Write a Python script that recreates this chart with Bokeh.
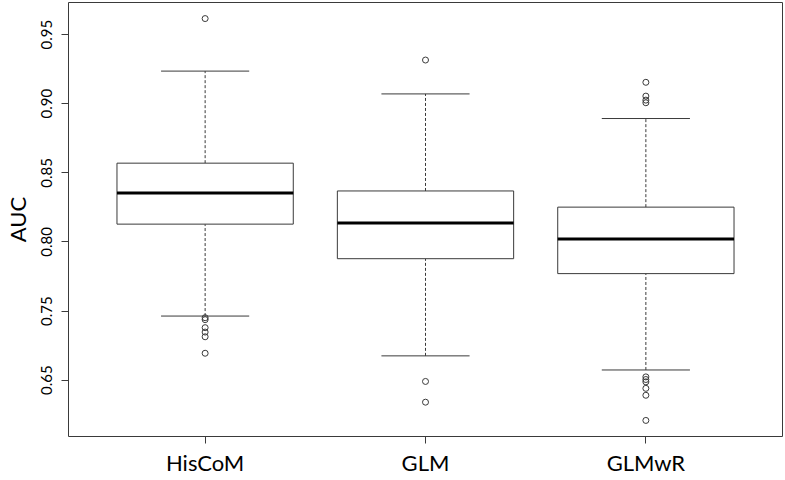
import numpy as np
from bokeh.plotting import figure
from bokeh.models import Range1d, FixedTicker, ColumnDataSource
from bokeh.embed import file_html
from bokeh.resources import INLINE

# ---- data ----
CATEGORIES = ["HisCoM", "GLM", "GLMwR"]
LOWER_WHISKER = [0.7464, 0.7176, 0.7074]
Q1 = [0.8129, 0.7879, 0.7771]
MEDIAN = [0.8355, 0.8138, 0.8021]
Q3 = [0.8570, 0.8369, 0.8252]
UPPER_WHISKER = [0.9236, 0.9071, 0.8893]
OUTLIERS_HISCOM = [0.9616, 0.7452, 0.7438, 0.7380, 0.7348, 0.7314, 0.7195]
OUTLIERS_GLM = [0.9316, 0.6991, 0.6841]
OUTLIERS_GLMWR = [0.9155, 0.9055, 0.9026, 0.9007, 0.7024, 0.7005, 0.6988, 0.6941, 0.6891, 0.6709]
Y_TICKS = [0.70, 0.75, 0.80, 0.85, 0.90, 0.95]
Y_TICK_LABELS = ["0.65", "0.75", "0.80", "0.85", "0.90", "0.95"]

# ---- styling ----
BOX_W = 0.8
CAP_W = 0.4
LINE = "#3a3a3a"
FONT = "Lato"

xs = np.arange(1, len(CATEGORIES) + 1, dtype=float)
outliers = [OUTLIERS_HISCOM, OUTLIERS_GLM, OUTLIERS_GLMWR]

all_vals = LOWER_WHISKER + UPPER_WHISKER + sum(outliers, [])
lo, hi = min(all_vals), max(all_vals)
pad = 0.04 * (hi - lo)

p = figure(width=784, height=478, output_backend="svg", toolbar_location=None,
           x_range=Range1d(0.38, len(CATEGORIES) + 0.62),
           y_range=Range1d(lo - pad, hi + pad),
           min_border_left=68, min_border_right=2, min_border_top=2, min_border_bottom=30)
p.background_fill_color = "white"
p.border_fill_color = "white"
p.outline_line_color = LINE
p.outline_line_width = 1
p.xgrid.visible = False
p.ygrid.visible = False

src = ColumnDataSource(dict(
    x=xs, lw=LOWER_WHISKER, q1=Q1, med=MEDIAN, q3=Q3, uw=UPPER_WHISKER,
    bl=xs - BOX_W / 2, br=xs + BOX_W / 2, cl=xs - CAP_W / 2, cr=xs + CAP_W / 2,
))

# whiskers (dashed)
p.segment(x0="x", x1="x", y0="q3", y1="uw", source=src, line_color=LINE, line_width=1, line_dash="3 2")
p.segment(x0="x", x1="x", y0="lw", y1="q1", source=src, line_color=LINE, line_width=1, line_dash="3 2")
# caps
p.segment(x0="cl", x1="cr", y0="uw", y1="uw", source=src, line_color=LINE, line_width=1)
p.segment(x0="cl", x1="cr", y0="lw", y1="lw", source=src, line_color=LINE, line_width=1)
# boxes
p.quad(left="bl", right="br", bottom="q1", top="q3", source=src,
       fill_color="white", line_color=LINE, line_width=1)
# medians
p.segment(x0="bl", x1="br", y0="med", y1="med", source=src, line_color="black", line_width=3)

# outliers
ox, oy = [], []
for xi, vals in zip(xs, outliers):
    ox += [xi] * len(vals)
    oy += vals
p.scatter(ox, oy, marker="circle", size=6, fill_color=None, line_color=LINE, line_width=1)

# axes
xa = p.xaxis[0]
xa.ticker = FixedTicker(ticks=list(xs))
xa.major_label_overrides = {float(x): c for x, c in zip(xs, CATEGORIES)}
xa.minor_tick_line_color = None
xa.major_tick_in = 0
xa.major_tick_out = 7
xa.major_tick_line_color = LINE
xa.axis_line_color = None
xa.major_label_text_font = FONT
xa.major_label_text_font_size = "22px"
xa.major_label_text_color = "black"
xa.major_label_standoff = 5

ya = p.yaxis[0]
ya.ticker = FixedTicker(ticks=Y_TICKS)
ya.major_label_overrides = dict(zip(Y_TICKS, Y_TICK_LABELS))
ya.minor_tick_line_color = None
ya.major_tick_in = 0
ya.major_tick_out = 7
ya.major_tick_line_color = LINE
ya.axis_line_color = None
ya.major_label_orientation = "vertical"
ya.major_label_text_font = FONT
ya.major_label_text_font_size = "15px"
ya.major_label_text_color = "black"
ya.major_label_standoff = 9
ya.axis_label = "AUC"
ya.axis_label_text_font = FONT
ya.axis_label_text_font_size = "22px"
ya.axis_label_text_font_style = "normal"
ya.axis_label_text_color = "black"
ya.axis_label_standoff = 8

open("out.html", "w").write(file_html(p, INLINE))
